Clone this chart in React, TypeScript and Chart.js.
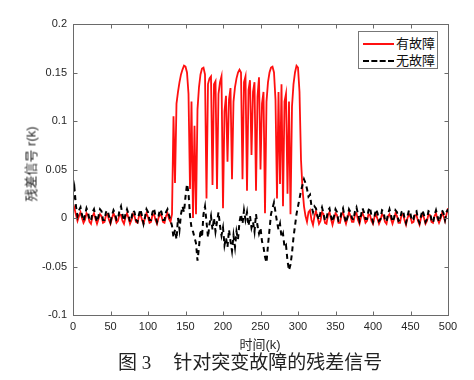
import React, { useEffect, useRef } from "react";
import { Chart, registerables } from "chart.js";

Chart.register(...registerables);

// Sample spacing along the k axis (one value every 2 samples)
const SAMPLE_STEP = 2;

const seriesNames = ["有故障", "无故障"];

const xTickValues = [0, 50, 100, 150, 200, 250, 300, 350, 400, 450, 500];
const xTickLabels = ["0", "50", "100", "150", "200", "250", "300", "350", "400", "450", "500"];
const yTickValues = [-0.1, -0.05, 0, 0.05, 0.1, 0.15, 0.2];
const yTickLabels = ["-0.1", "-0.05", "0", "0.05", "0.1", "0.15", "0.2"];

// 有故障 (fault) residual, k = 0..130
const redNormal = [
  0.015, 0.010, 0.003, -0.003, 0.002, 0.006, 0.000, -0.005, -0.002, 0.005,
  0.003, -0.004, -0.006, 0.002, 0.005, -0.001, -0.006, -0.001, 0.004, 0.002,
  -0.005, -0.004, 0.003, 0.004, -0.002, -0.006, 0.000, 0.005, 0.001, -0.005,
  -0.003, 0.004, 0.003, -0.003, -0.006, 0.001, 0.005, 0.000, -0.006, -0.002,
  0.004, 0.002, -0.004, -0.005, 0.002, 0.004, -0.002, -0.006, 0.000, 0.005,
  0.001, -0.005, -0.004, 0.003, 0.004, -0.002, -0.006, 0.000, 0.004, 0.002,
  -0.004, -0.005, 0.002, 0.005, -0.001, -0.004,
];
// k = 132..310
const redFault = [
  0.004, 0.105, 0.036, 0.118, 0.130, 0.140, 0.148, 0.153, 0.157, 0.156,
  0.150, 0.128, 0.030, 0.120, 0.000, 0.095, 0.004, 0.112, 0.135, 0.148,
  0.154, 0.155, 0.148, 0.020, 0.138, 0.144, 0.146, 0.034, 0.138, 0.141,
  0.030, 0.128, 0.140, 0.146, 0.010, 0.110, 0.126, 0.058, 0.122, 0.134,
  0.040, 0.120, 0.135, 0.144, 0.150, 0.153, 0.150, 0.040, 0.140, 0.146,
  0.028, 0.132, 0.142, 0.065, 0.130, 0.140, 0.028, 0.125, 0.145, 0.050,
  0.118, 0.130, 0.005, 0.120, 0.140, 0.150, 0.155, 0.156, 0.150, 0.122,
  0.020, 0.130, 0.035, 0.138, 0.012, 0.120, 0.128, 0.025, 0.120, 0.004,
  0.115, 0.138, 0.150, 0.157, 0.155, 0.130, 0.060, 0.030, 0.012, 0.002,
];
// k = 312..500
const redAfter = [
  -0.004, 0.006, 0.008, -0.002, -0.007, 0.002, 0.007, 0.001, -0.006, -0.003,
  0.006, 0.004, -0.005, -0.006, 0.003, 0.006, -0.001, -0.007, -0.001, 0.005,
  0.003, -0.005, -0.005, 0.003, 0.006, -0.001, -0.006, 0.000, 0.006, 0.002,
  -0.004, -0.004, 0.004, 0.005, -0.002, -0.006, 0.001, 0.005, 0.001, -0.005,
  -0.003, 0.004, 0.003, -0.003, -0.006, 0.001, 0.004, -0.001, -0.006, -0.002,
  0.004, 0.002, -0.004, -0.006, 0.002, 0.004, -0.001, -0.006, -0.001, 0.005,
  0.002, -0.005, -0.005, 0.003, 0.004, -0.002, -0.007, 0.000, 0.004, 0.001,
  -0.005, -0.004, 0.003, 0.003, -0.003, -0.007, 0.000, 0.004, 0.000, -0.006,
  -0.003, 0.004, 0.003, -0.004, -0.005, 0.002, 0.005, -0.001, -0.005, -0.001,
  0.005, 0.002, -0.003, 0.004, 0.010,
];

// 无故障 (no fault) residual, k = 0..130
const blackNormal = [
  0.018, 0.030, 0.012, 0.002, 0.008, 0.011, 0.003, -0.003, 0.003, 0.010,
  0.006, -0.002, -0.003, 0.006, 0.009, 0.002, -0.004, 0.002, 0.009, 0.007,
  -0.002, -0.002, 0.006, 0.008, 0.002, -0.004, 0.003, 0.008, 0.005, -0.002,
  -0.001, 0.008, 0.012, 0.003, -0.003, 0.004, 0.009, 0.004, -0.004, 0.000,
  0.008, 0.006, -0.002, -0.004, 0.004, 0.009, 0.002, -0.006, 0.001, 0.009,
  0.006, -0.002, -0.002, 0.006, 0.010, 0.002, -0.004, 0.002, 0.009, 0.006,
  -0.002, -0.002, 0.006, 0.009, 0.003, -0.002,
];
// k = 132..310
const blackFault = [
  -0.008, -0.020, -0.012, -0.022, 0.000, -0.012, 0.004, 0.012, 0.006, 0.022,
  0.035, 0.026, 0.002, -0.010, -0.014, -0.020, -0.026, -0.044, -0.030, -0.012,
  -0.020, 0.004, 0.012, -0.004, -0.020, -0.006, 0.002, -0.012, 0.000, -0.014,
  -0.004, 0.006, -0.008, -0.018, -0.010, -0.028, -0.020, -0.030, -0.012, -0.024,
  -0.034, -0.018, -0.030, -0.014, -0.022, -0.004, 0.004, -0.006, 0.008, -0.002,
  0.006, -0.008, 0.002, -0.010, -0.004, -0.014, 0.004, -0.008, -0.016, -0.010,
  -0.024, -0.030, -0.040, -0.046, -0.028, -0.012, 0.004, 0.010, 0.016, 0.006,
  -0.004, -0.012, -0.006, -0.020, -0.016, -0.030, -0.028, -0.044, -0.054, -0.048,
  -0.036, -0.020, -0.008, 0.004, 0.012, 0.020, 0.028, 0.034, 0.040, 0.036,
];
// k = 312..500
const blackAfter = [
  0.030, 0.022, 0.024, 0.012, 0.006, 0.012, 0.010, 0.002, -0.002, 0.006,
  0.011, 0.005, -0.003, -0.001, 0.008, 0.010, 0.002, -0.004, 0.002, 0.009,
  0.006, -0.003, -0.002, 0.006, 0.010, 0.002, -0.005, 0.001, 0.009, 0.006,
  0.000, -0.002, 0.007, 0.011, 0.004, -0.003, 0.003, 0.010, 0.006, -0.001,
  -0.001, 0.008, 0.011, 0.002, -0.004, 0.002, 0.009, 0.005, -0.003, -0.001,
  0.008, 0.007, -0.002, -0.004, 0.004, 0.009, 0.003, -0.004, 0.000, 0.008,
  0.006, -0.003, -0.002, 0.006, 0.008, 0.000, -0.005, 0.002, 0.008, 0.004,
  -0.003, -0.001, 0.006, 0.007, -0.001, -0.005, 0.002, 0.008, 0.003, -0.004,
  -0.001, 0.007, 0.006, -0.002, -0.005, 0.003, 0.008, 0.002, -0.004, 0.001,
  0.008, 0.005, -0.002, 0.006, 0.009,
];

const redValues = [...redNormal, ...redFault, ...redAfter];
const blackValues = [...blackNormal, ...blackFault, ...blackAfter];

const toPoints = (vals: number[]) => vals.map((y, i) => ({ x: i * SAMPLE_STEP, y }));

const AXIS_COLOR = "#6a6a6a";
const TEXT_COLOR = "#262626";
const SANS = '"Liberation Sans", Arial, "Noto Sans CJK SC", sans-serif';

const boxPlugin = {
  id: "boxTicks",
  afterDatasetsDraw(chart: any) {
    const { ctx, chartArea: a, scales } = chart;
    ctx.save();
    ctx.strokeStyle = AXIS_COLOR;
    ctx.lineWidth = 1;
    const L = Math.round(a.left) + 0.5;
    const R = Math.round(a.right) + 0.5;
    const T = Math.round(a.top) + 0.5;
    const B = Math.round(a.bottom) + 0.5;
    ctx.strokeRect(L, T, R - L, B - T);
    const len = 4;
    ctx.beginPath();
    xTickValues.forEach((v) => {
      const px = Math.round(scales.x.getPixelForValue(v)) + 0.5;
      ctx.moveTo(px, B);
      ctx.lineTo(px, B - len);
      ctx.moveTo(px, T);
      ctx.lineTo(px, T + len);
    });
    yTickValues.forEach((v) => {
      const py = Math.round(scales.y.getPixelForValue(v)) + 0.5;
      ctx.moveTo(L, py);
      ctx.lineTo(L + len, py);
      ctx.moveTo(R, py);
      ctx.lineTo(R - len, py);
    });
    ctx.stroke();
    ctx.restore();
  },
};

export default function App() {
  const canvasRef = useRef<HTMLCanvasElement | null>(null);

  useEffect(() => {
    document.body.style.margin = "0";
    const canvas = canvasRef.current;
    if (!canvas) return;
    const chart = new Chart(canvas, {
      type: "line",
      data: {
        datasets: [
          {
            label: seriesNames[1],
            data: toPoints(blackValues),
            borderColor: "#000000",
            borderWidth: 2,
            borderDash: [5, 4],
            pointRadius: 0,
            tension: 0,
            order: 0,
          },
          {
            label: seriesNames[0],
            data: toPoints(redValues),
            borderColor: "#ff1010",
            borderWidth: 1.8,
            pointRadius: 0,
            tension: 0,
            order: 1,
          },
        ],
      },
      options: {
        animation: false,
        responsive: false,
        maintainAspectRatio: false,
        layout: { padding: { left: 0, right: 26, top: 24, bottom: 0 } },
        plugins: { legend: { display: false }, tooltip: { enabled: false } },
        scales: {
          x: {
            type: "linear",
            min: 0,
            max: 500,
            grid: { display: false, drawTicks: false },
            border: { display: false },
            afterBuildTicks: (scale: any) => {
              scale.ticks = xTickValues.map((v) => ({ value: v }));
            },
            afterFit: (scale: any) => {
              scale.height = 65;
            },
            ticks: {
              padding: 5,
              maxRotation: 0,
              autoSkip: false,
              color: TEXT_COLOR,
              font: { family: SANS, size: 11 },
              callback: (v: any) => xTickLabels[xTickValues.indexOf(Number(v))] ?? "",
            },
          },
          y: {
            type: "linear",
            min: -0.1,
            max: 0.2,
            grid: { display: false, drawTicks: false },
            border: { display: false },
            afterBuildTicks: (scale: any) => {
              scale.ticks = yTickValues.map((v) => ({ value: v }));
            },
            afterFit: (scale: any) => {
              scale.width = 73;
            },
            ticks: {
              padding: 6,
              autoSkip: false,
              color: TEXT_COLOR,
              font: { family: SANS, size: 11 },
              callback: (v: any) => {
                const idx = yTickValues.findIndex((t) => Math.abs(t - Number(v)) < 1e-9);
                return idx >= 0 ? yTickLabels[idx] : "";
              },
            },
          },
        },
      },
      plugins: [boxPlugin],
    } as any);
    return () => chart.destroy();
  }, []);

  const abs = (s: React.CSSProperties): React.CSSProperties => ({ position: "absolute", ...s });

  return (
    <div style={{ position: "fixed", left: 0, top: 0, width: 474, height: 380, background: "#fff", overflow: "hidden" }}>
      <canvas ref={canvasRef} width={474} height={380} style={{ position: "absolute", left: 0, top: 0, width: 474, height: 380 }} />
      {/* y axis title */}
      <div
        style={abs({
          left: 30,
          top: 164,
          transform: "translate(-50%, -50%) rotate(-90deg)",
          whiteSpace: "nowrap",
          font: `13px ${SANS}`,
          color: TEXT_COLOR,
        })}
      >
        残差信号 r(k)
      </div>
      {/* x axis title */}
      <div
        style={abs({
          left: 260,
          top: 343,
          transform: "translate(-50%, -50%)",
          whiteSpace: "nowrap",
          font: `13px ${SANS}`,
          color: TEXT_COLOR,
        })}
      >
        时间(k)
      </div>
      {/* legend */}
      <div
        style={abs({
          left: 358,
          top: 31,
          width: 78,
          height: 36,
          border: "1px solid #777",
          background: "#fff",
        })}
      >
        <div style={abs({ left: 4, top: 11, width: 31, height: 0, borderTop: "2px solid #ff1010" })} />
        <div style={abs({ left: 37, top: 4, font: `13px ${SANS}`, color: "#111", whiteSpace: "nowrap", lineHeight: "16px" })}>
          {seriesNames[0]}
        </div>
        <div style={abs({ left: 4, top: 28, width: 31, height: 0, borderTop: "2px dashed #000" })} />
        <div style={abs({ left: 37, top: 21, font: `13px ${SANS}`, color: "#111", whiteSpace: "nowrap", lineHeight: "16px" })}>
          {seriesNames[1]}
        </div>
      </div>
      {/* caption */}
      <div
        style={abs({
          left: 118,
          top: 353,
          whiteSpace: "nowrap",
          font: `19px "Liberation Serif", "Noto Sans CJK SC", serif`,
          color: "#222",
          lineHeight: "20px",
        })}
      >
        <span>图 3</span>
        <span style={{ marginLeft: 22 }}>针对突变故障的残差信号</span>
      </div>
    </div>
  );
}
